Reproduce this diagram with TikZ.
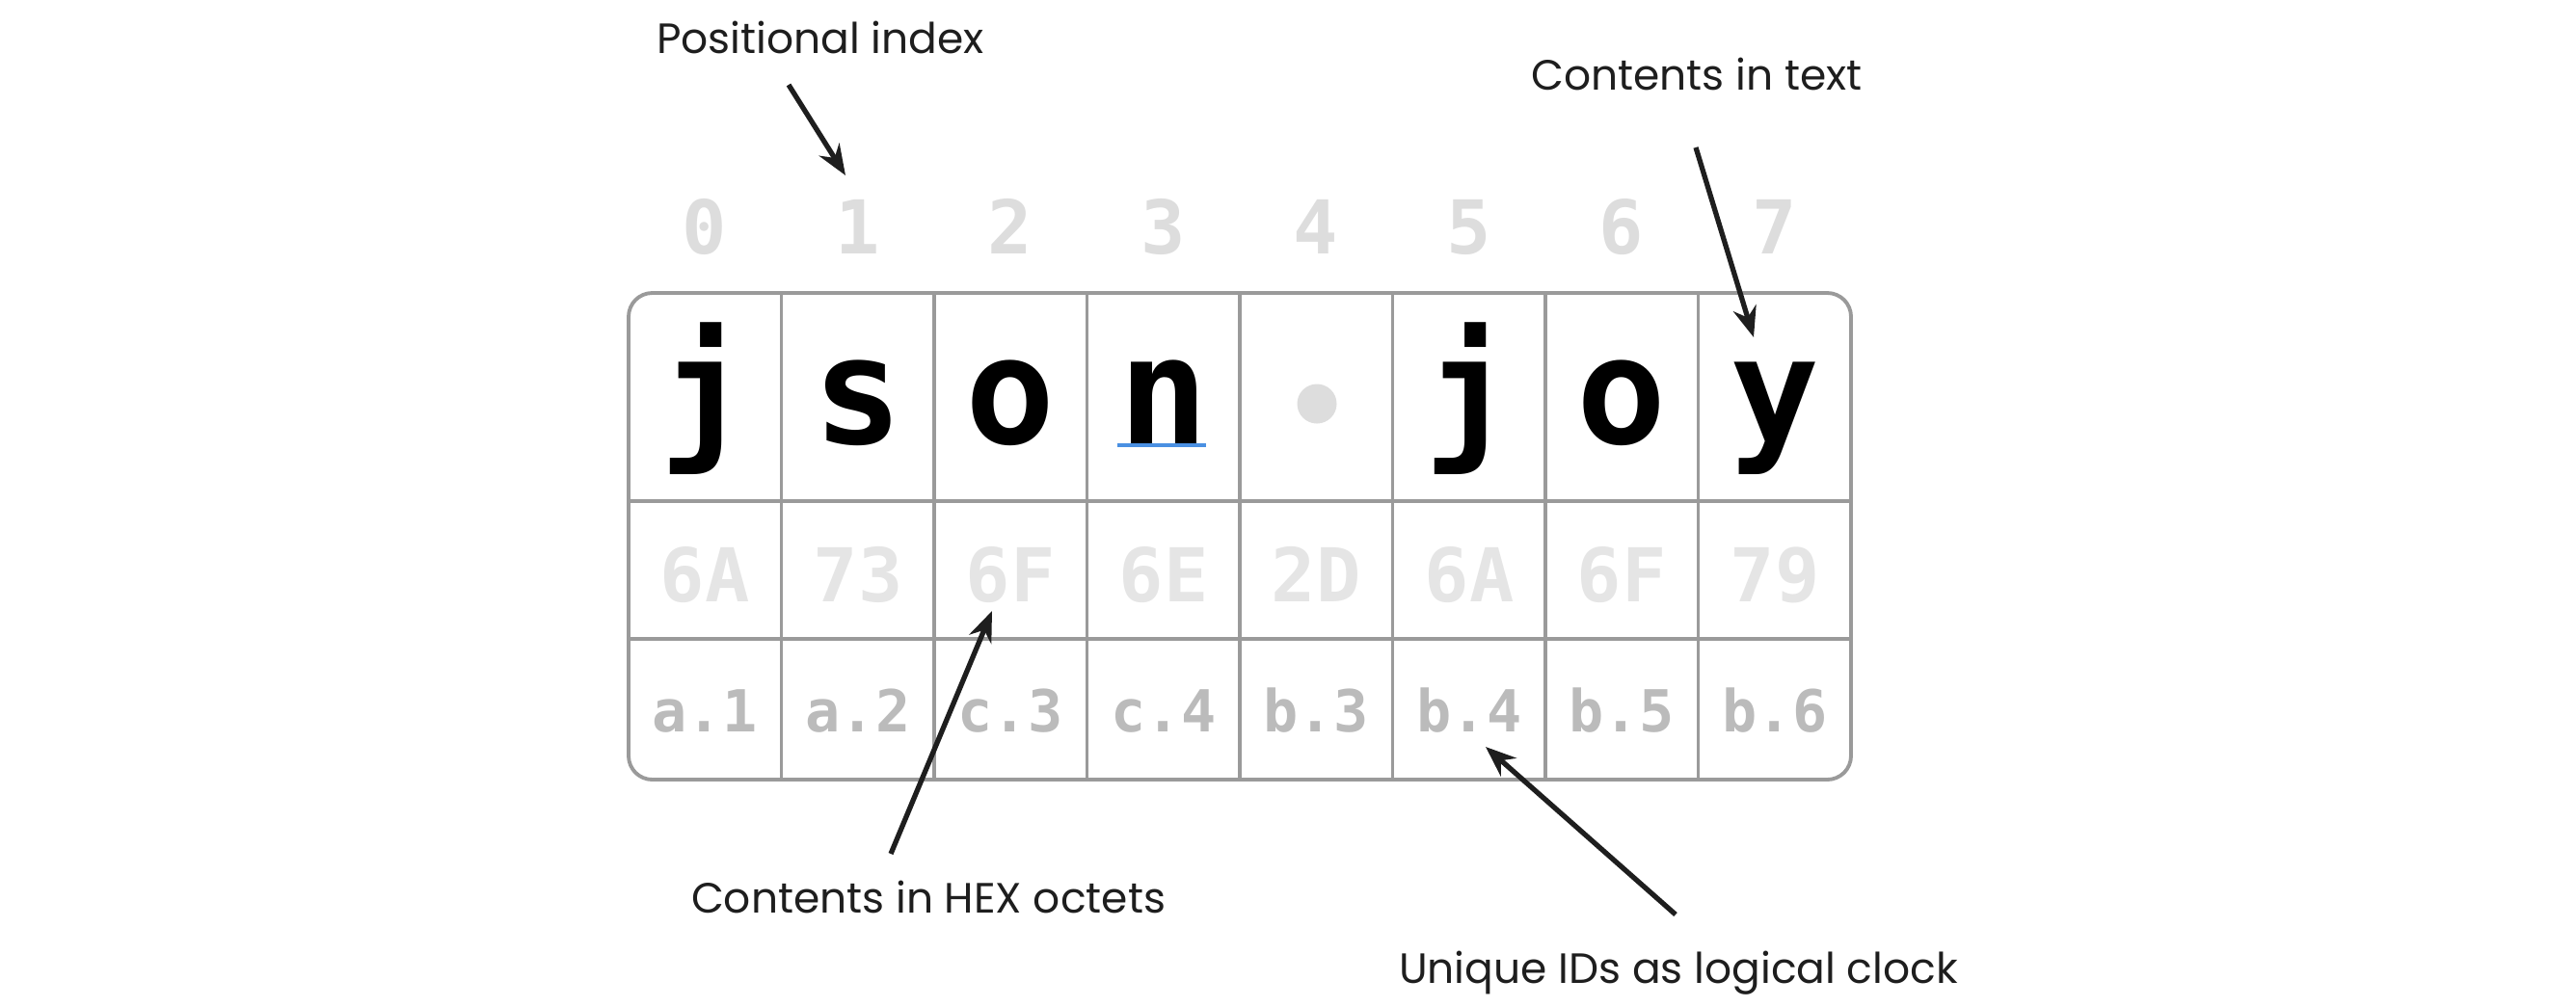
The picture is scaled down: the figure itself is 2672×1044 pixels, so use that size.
\documentclass[tikz,border=0pt]{standalone}
\usepackage{fontspec}
\setmainfont{Poppins}
\newfontfamily\codefont{DejaVu Sans Mono}
\usepackage{tikz}
\usetikzlibrary{arrows.meta}

\definecolor{gridgray}{HTML}{9A9A9A}
\definecolor{idxgray}{HTML}{DDDDDD}
\definecolor{hexgray}{HTML}{E5E5E5}
\definecolor{idgray}{HTML}{BBBBBB}
\definecolor{inkblack}{HTML}{1E1E1E}
\definecolor{cursorblue}{HTML}{4A90E2}

\tikzset{
  chr/.style={anchor=base,inner sep=0pt,text=black,font=\codefont\bfseries\fontsize{44pt}{44pt}\selectfont},
  idx/.style={anchor=base,inner sep=0pt,text=idxgray,font=\codefont\bfseries\fontsize{21.9pt}{22pt}\selectfont},
  hex/.style={anchor=base,inner sep=0pt,text=hexgray,font=\codefont\bfseries\fontsize{21.9pt}{22pt}\selectfont},
  uid/.style={anchor=base,inner sep=0pt,text=idgray,font=\codefont\bfseries\fontsize{17.1pt}{18pt}\selectfont},
  note/.style={anchor=base,inner sep=0pt,text=inkblack,font=\fontsize{12.5pt}{13pt}\selectfont},
  arr/.style={-{Stealth[length=9pt,width=7pt]},line width=1.5pt,draw=inkblack},
  grid/.style={draw=gridgray,line width=1.1pt}
}

\begin{document}
\begin{tikzpicture}[x=0.01cm,y=-0.01cm]
        \useasboundingbox (0,0) rectangle (2672,1044);

        % table frame
        \draw[grid,rounded corners=7pt] (652,304) rectangle (1920,809);
        \draw[grid] (652,520) -- (1920,520);
        \draw[grid] (652,663) -- (1920,663);
        \draw[grid] (810.5,304) -- (810.5,809);
        \draw[grid] (969,304) -- (969,809);
        \draw[grid] (1127.5,304) -- (1127.5,809);
        \draw[grid] (1286,304) -- (1286,809);
        \draw[grid] (1444.5,304) -- (1444.5,809);
        \draw[grid] (1603,304) -- (1603,809);
        \draw[grid] (1761.5,304) -- (1761.5,809);

        % positional index
        \node[idx] (i0) at (731,263){0};
        \node[idx] (i1) at (890,263){1};
        \node[idx] (i2) at (1048,263){2};
        \node[idx] (i3) at (1207,263){3};
        \node[idx] (i4) at (1365,263){4};
        \node[idx] (i5) at (1524,263){5};
        \node[idx] (i6) at (1682,263){6};
        \node[idx] (i7) at (1841,263){7};

        % contents in text
        \node[chr] (c0) at (731,460){j};
        \node[chr] (c1) at (890,460){s};
        \node[chr] (c2) at (1048,460){o};
        \node[chr] (c3) at (1207,460){n};
        \node[circle,fill=idxgray,minimum size=41pt*0.2845,inner sep=0pt] (c4) at (1366,419){};
        \node[chr] (c5) at (1524,460){j};
        \node[chr] (c6) at (1682,460){o};
        \node[chr] (c7) at (1841,460){y};
        \draw[cursorblue,line width=1.1pt] (1159,462) -- (1251,462);

        % contents in hex octets
        \node[hex] (h0) at (731,624){6A};
        \node[hex] (h1) at (890,624){73};
        \node[hex] (h2) at (1048,624){6F};
        \node[hex] (h3) at (1207,624){6E};
        \node[hex] (h4) at (1365,624){2D};
        \node[hex] (h5) at (1524,624){6A};
        \node[hex] (h6) at (1682,624){6F};
        \node[hex] (h7) at (1841,624){79};

        % unique ids
        \node[uid] (u0) at (731,759){a.1};
        \node[uid] (u1) at (890,759){a.2};
        \node[uid] (u2) at (1048,759){c.3};
        \node[uid] (u3) at (1207,759){c.4};
        \node[uid] (u4) at (1365,759){b.3};
        \node[uid] (u5) at (1524,759){b.4};
        \node[uid] (u6) at (1682,759){b.5};
        \node[uid] (u7) at (1841,759){b.6};

        % notes
        \node[note] (nidx) at (851,55){Positional index};
        \node[note] (ntxt) at (1760,93){Contents in text};
        \node[note] (nhex) at (963,947){Contents in HEX octets};
        \node[note] (nuid) at (1741,1020){Unique IDs as logical clock};

        \coordinate (nidxtail) at (818,88);
        \coordinate (nidxhead) at (877,182);
        \coordinate (ntxttail) at (1759,153);
        \coordinate (ntxthead) at (1819,350);
        \coordinate (nhextail) at (924,886);
        \coordinate (nhexhead) at (1029,634);
        \coordinate (nuidtail) at (1738,949);
        \coordinate (nuidhead) at (1541,775);

        \draw[arr] (nidxtail) -- (nidxhead);
        \draw[arr] (ntxttail) -- (ntxthead);
        \draw[arr] (nhextail) -- (nhexhead);
        \draw[arr] (nuidtail) -- (nuidhead);
\end{tikzpicture}
\end{document}
